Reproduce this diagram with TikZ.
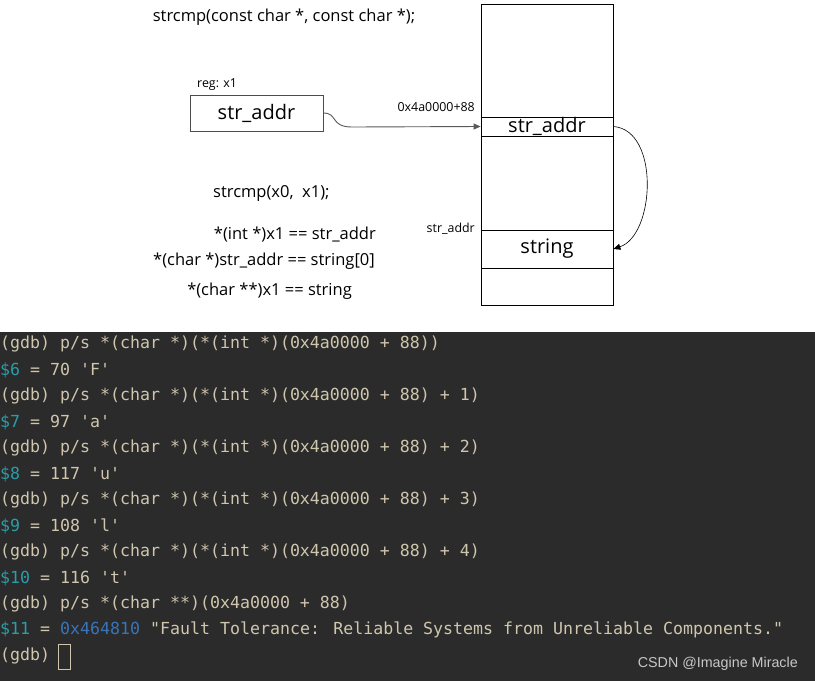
\documentclass[tikz,border=0pt]{standalone}
\usepackage{fontspec}
\setmainfont{Open Sans}
\newfontfamily\termfont{DejaVu Sans Mono}
\newfontfamily\wmfont{Liberation Sans}
\usetikzlibrary{arrows.meta}
\definecolor{termbg}{HTML}{2B2B2B}
\definecolor{termfg}{HTML}{D0C6AD}
\definecolor{termteal}{HTML}{2A9DA8}
\definecolor{termblue}{HTML}{3A74B8}
\definecolor{wmgray}{HTML}{C8C8C8}
\tikzset{
  lbl/.style={inner sep=0pt, font=\fontsize{16.5}{19}\selectfont},
  small/.style={inner sep=0pt, font=\fontsize{12.4}{14}\selectfont},
  cell/.style={draw, line width=0.8pt, minimum width=132pt, inner sep=0pt, font=\fontsize{20}{22}\selectfont},
  term/.style={anchor=west, inner sep=0pt, text=termfg, font=\termfont\fontsize{16.6}{18}\selectfont},
  arr/.style={-{Triangle[length=7pt,width=6pt]}},
}
\begin{document}
\begin{tikzpicture}[x=1pt,y=-1pt]
\useasboundingbox (0,0) rectangle (815,681);
\fill[white] (0,0) rectangle (815,332);
\fill[termbg] (0,332) rectangle (815,681);

% memory column
\node[draw, line width=0.8pt, minimum width=132pt, minimum height=301pt, inner sep=0pt] (col) at (547,154.5) {};
\node[cell, minimum height=19pt] (cA) at (547,126.5) {str\_addr};
\node[cell, minimum height=38pt] (cB) at (547,249) {string};

% register box
\node[draw, line width=0.8pt, draw=black!70, minimum width=133pt, minimum height=36pt, inner sep=0pt, font=\fontsize{20}{22}\selectfont] (reg) at (256.5,113) {str\_addr};
\node[small, anchor=south west] (reglbl) at (197,91) {reg: x1};

% texts
\node[lbl] (proto) at (284,17) {strcmp(const char *, const char *);};
\node[small, anchor=south east] (addr) at (475,112) {0x4a0000+88};
\node[small, anchor=south east] (sa) at (475,235) {str\_addr};
\node[lbl, anchor=west] (call) at (213,193) {strcmp(x0,\ \ x1);};
\node[lbl, anchor=east] (e1) at (376,235) {*(int *)x1 == str\_addr};
\node[lbl, anchor=east] (e2) at (375,261) {*(char *)str\_addr == string[0]};
\node[lbl, anchor=east] (e3) at (352,291) {*(char **)x1 == string};

% arrows
\coordinate (bend) at (352,127);
\draw[line width=0.9pt, draw=black!65, arr] (reg.east) .. controls (338,113) and (330,127) .. (bend) -- (cA.west);
\draw[line width=0.6pt, arr] (cA.east) .. controls (660,130) and (655,235) .. (cB.east);

% terminal
\node[term] (t1) at (0,344) {(gdb) p/s *(char *)(*(int *)(0x4a0000 + 88))};
\node[term] (t2) at (0,370) {\textcolor{termteal}{\$6} = 70 'F'};
\node[term] (t3) at (0,396) {(gdb) p/s *(char *)(*(int *)(0x4a0000 + 88) + 1)};
\node[term] (t4) at (0,422) {\textcolor{termteal}{\$7} = 97 'a'};
\node[term] (t5) at (0,448) {(gdb) p/s *(char *)(*(int *)(0x4a0000 + 88) + 2)};
\node[term] (t6) at (0,474) {\textcolor{termteal}{\$8} = 117 'u'};
\node[term] (t7) at (0,500) {(gdb) p/s *(char *)(*(int *)(0x4a0000 + 88) + 3)};
\node[term] (t8) at (0,526) {\textcolor{termteal}{\$9} = 108 'l'};
\node[term] (t9) at (0,552) {(gdb) p/s *(char *)(*(int *)(0x4a0000 + 88) + 4)};
\node[term] (t10) at (0,578) {\textcolor{termteal}{\$10} = 116 't'};
\node[term] (t11) at (0,604) {(gdb) p/s *(char **)(0x4a0000 + 88)};
\node[term] (t12) at (0,630) {\textcolor{termteal}{\$11} = \textcolor{termblue}{0x464810} "Fault Tolerance: Reliable Systems from Unreliable Components."};
\node[term] (t13) at (0,656) {(gdb)};
\node[draw=termfg, line width=0.8pt, minimum width=12pt, minimum height=25pt, inner sep=0pt] (cursor) at (64,656.5) {};
\node[inner sep=0pt, anchor=east, text=wmgray, font=\wmfont\fontsize{14.3}{16}\selectfont] (wm) at (798,664) {CSDN @Imagine Miracle};
\end{tikzpicture}
\end{document}
